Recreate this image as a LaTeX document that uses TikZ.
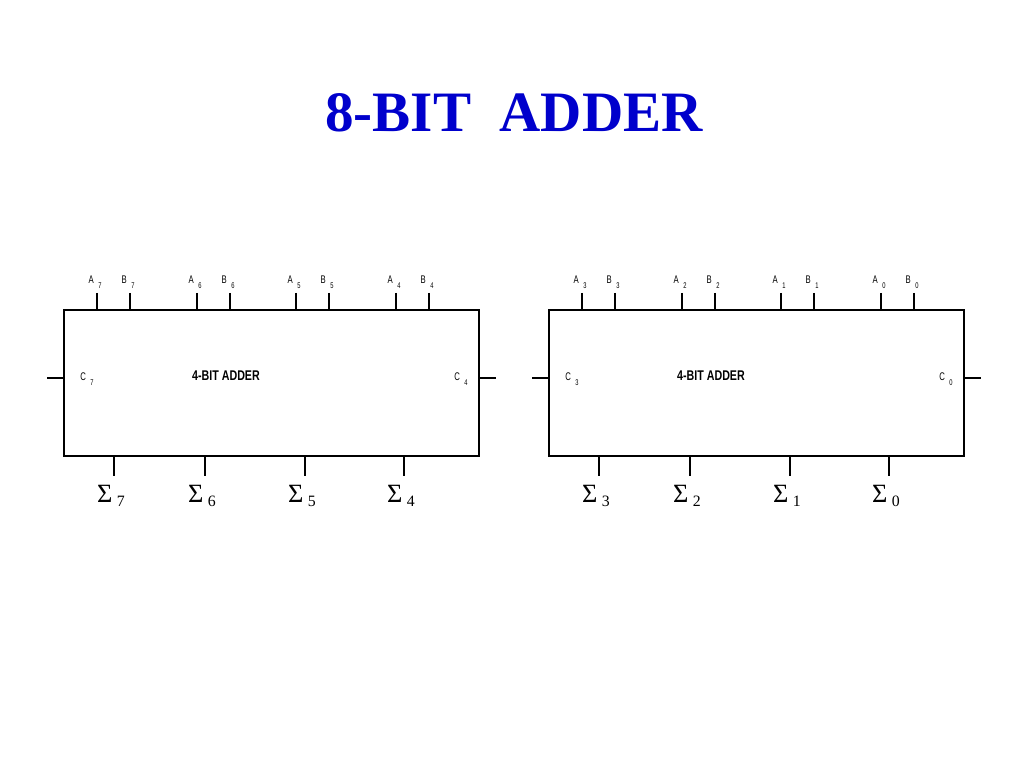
\documentclass[tikz,border=0pt]{standalone}
\usepackage{fontspec}
\setmainfont{Liberation Serif}
\newfontfamily\narrowsans[FakeStretch=0.76]{Liberation Sans}
\newfontfamily\pinsans[FakeStretch=0.7]{Liberation Sans}
\usepackage{tikz}
\usetikzlibrary{positioning,calc}
\definecolor{slideblue}{RGB}{0,0,204}
\tikzset{%
    adder/.style={draw, line width=1.1pt, minimum width=83mm, minimum height=29.2mm, inner sep=0pt},
    wire/.style={line width=1.1pt},
    pinlab/.style={inner sep=0pt, anchor=base, font=\pinsans\fontsize{6.3}{7}\selectfont},
    sumlab/.style={inner sep=0pt, anchor=base, font=\fontsize{15}{15}\selectfont},
    boxlab/.style={inner sep=0pt, font=\narrowsans\bfseries\fontsize{8}{9}\selectfont}
}
\newcommand{\pinsub}[1]{\hspace{2.6pt}\raisebox{-2.8pt}{\fontsize{4.7}{5}\selectfont #1}}
\newcommand{\sumsub}[1]{\hspace{2.5pt}\raisebox{-0.25ex}{\fontsize{9}{9}\selectfont #1}}

\begin{document}
\begin{tikzpicture}[x=0.2mm,y=-0.2mm]
    \useasboundingbox (0,0) rectangle (1024,768);

    \node[font=\bfseries\fontsize{32.5}{34}\selectfont, text=slideblue] (title) at (514,113) {8-BIT\ \ ADDER};

    % the two 4-bit blocks
	\node[adder] (hi) at (271.5,383) {};
	\node[adder] (lo) at (756.5,383) {};
    \node[boxlab] (hitxt) at (226,376) {4-BIT ADDER};
    \node[boxlab] (lotxt) at (711,376) {4-BIT ADDER};

    % inputs A, B
    \foreach \i/\x in {7/97,6/197,5/296,4/396,3/582,2/682,1/781,0/881}{
        \coordinate (a\i) at (\x,293);
        \coordinate (b\i) at (\x+33,293);
        \draw[wire] (a\i) -- ++(0,17);
        \draw[wire] (b\i) -- ++(0,17);
        \node[pinlab] (la\i) at ($(a\i)+(-2,-9)$) {A\pinsub{\i}};
        \node[pinlab] (lb\i) at ($(b\i)+(-2,-9)$) {B\pinsub{\i}};
    }

    % carries
    \coordinate (c7in) at (47,378);
    \coordinate (c4out) at (496,378);
    \coordinate (c3in) at (532,378);
    \coordinate (c0out) at (981,378);
    \draw[wire] (c7in) -- (c7in -| hi.west);
    \draw[wire] (hi.east |- c4out) -- (c4out);
    \draw[wire] (c3in) -- (c3in -| lo.west);
    \draw[wire] (lo.east |- c0out) -- (c0out);
    \node[pinlab] (lc7) at (87,381) {C\pinsub{7}};
    \node[pinlab] (lc4) at (461,381) {C\pinsub{4}};
    \node[pinlab] (lc3) at (572,381) {C\pinsub{3}};
    \node[pinlab] (lc0) at (946,381) {C\pinsub{0}};

    % sum outputs
    \foreach \i/\x in {7/114,6/205,5/305,4/404,3/599,2/690,1/790,0/889}{
        \coordinate (s\i) at (\x,476);
        \draw[wire] (s\i) -- ++(0,-20);
        \node[sumlab] (ls\i) at ($(s\i)+(-3,27)$) {Σ\sumsub{\i}};
    }
\end{tikzpicture}
\end{document}
